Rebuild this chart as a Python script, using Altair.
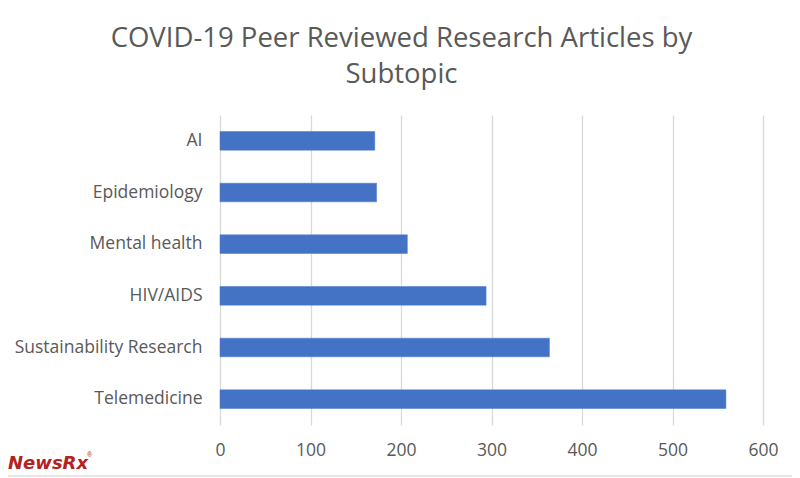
import altair as alt
import pandas as pd

categories = ["AI", "Epidemiology", "Mental health", "HIV/AIDS", "Sustainability Research", "Telemedicine"]
values = [171, 173, 207, 294, 364, 559]
x_ticks = [0, 100, 200, 300, 400, 500, 600]

df = pd.DataFrame({"topic": categories, "count": values})

FONT = "Open Sans"
GREY = "#595959"

bars = alt.Chart(df).mark_bar(color="#4472C4", stroke="#4a78cc", strokeWidth=0.5).encode(
    y=alt.Y("topic:N", sort=categories,
            scale=alt.Scale(paddingInner=0.64, paddingOuter=0.32),
            axis=alt.Axis(title=None, domain=False, ticks=False, labelFontSize=17.5,
                          labelColor=GREY, labelFont=FONT, labelPadding=18, grid=False,
                          labelLimit=400)),
    x=alt.X("count:Q", scale=alt.Scale(domain=[0, 600], nice=False),
            axis=alt.Axis(title=None, values=x_ticks, domain=False, ticks=False,
                          labelFontSize=17.5, labelColor=GREY, labelFont=FONT, labelPadding=16,
                          labelFlush=False,
                          gridColor="#d9d9d9", gridWidth=1.3)),
)

logo = alt.Chart(pd.DataFrame({"t": ["NewsRx"]})).mark_text(
    font="DejaVu Sans", fontSize=18, fontWeight="bold", fontStyle="italic",
    color="#b22222", align="left", baseline="alphabetic"
).encode(text="t:N", x=alt.value(-212), y=alt.value(354))

reg = alt.Chart(pd.DataFrame({"t": ["®"]})).mark_text(
    font="Liberation Sans", fontSize=7, color="#b22222", align="left", baseline="alphabetic"
).encode(text="t:N", x=alt.value(-133), y=alt.value(342))

line = alt.Chart(pd.DataFrame({"a": [0]})).mark_rule(color="#d0d0d0", strokeWidth=1).encode(
    x=alt.value(-212), x2=alt.value(572), y=alt.value(361))

chart = alt.layer(bars, logo, reg, line).properties(
    width=543, height=310,
    padding={"left": 212, "top": 107, "right": 29, "bottom": 53},
    autosize=alt.AutoSizeParams(type="none"),
    title=alt.TitleParams(
        text=["COVID-19 Peer Reviewed Research Articles by", "Subtopic"],
        font=FONT, fontSize=27.5, fontWeight="normal", color=GREY,
        anchor="middle", dx=-90, offset=27, lineHeight=36,
    ),
).configure_view(stroke=None)

chart.save("out.html", embed_options={"renderer": "svg", "actions": False})
